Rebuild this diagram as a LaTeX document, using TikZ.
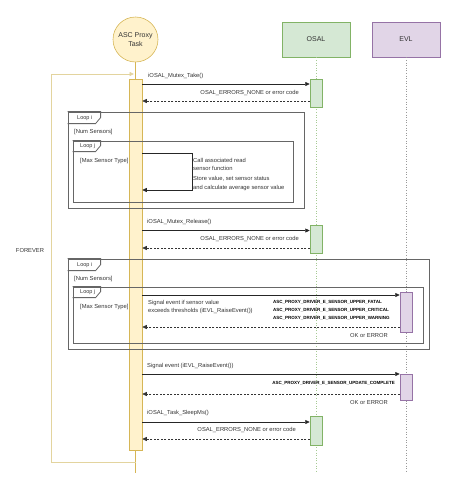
\documentclass[tikz,border=0pt]{standalone}
\usepackage{fontspec}
\setmainfont{Liberation Sans}
\usetikzlibrary{arrows.meta,calc}
\definecolor{yfill}{HTML}{FFF2CC}
\definecolor{ystroke}{HTML}{D6B656}
\definecolor{gfill}{HTML}{D5E8D4}
\definecolor{gstroke}{HTML}{82B366}
\definecolor{pfill}{HTML}{E1D5E7}
\definecolor{pstroke}{HTML}{9673A6}
\definecolor{frame}{HTML}{666666}
\definecolor{txt}{HTML}{333333}
\definecolor{loopline}{HTML}{E3D49E}
\tikzset{
  x=1pt, y=-1pt,
  head/.style={draw, line width=0.6pt, minimum width=68pt, minimum height=35pt, inner sep=0pt, font=\fontsize{7}{8}\selectfont, text=txt},
  actbar/.style={draw, line width=0.5pt, minimum width=12pt, inner sep=0pt},
  msg/.style={draw=black!85, line width=0.6pt, -{Triangle[length=4.5pt,width=4pt]}},
  ret/.style={draw=black!80, line width=0.6pt, dashed, dash pattern=on 2pt off 1.5pt, -{Triangle[length=4.5pt,width=4pt]}},
  lbl/.style={font=\fontsize{5.8}{7}\selectfont, text=txt, inner sep=0pt, anchor=west},
  blbl/.style={font=\fontsize{4.5}{5}\selectfont\bfseries, text=black, inner sep=0pt},
  loopframe/.style={draw=frame, line width=0.8pt},
  looptag/.style={font=\fontsize{5.5}{6}\selectfont, text=txt, inner sep=0pt},
  life/.style={line width=0.6pt, dotted},
}
\begin{document}
\begin{tikzpicture}
\useasboundingbox (0,0) rectangle (474,490);
% heads
\node[circle, draw=ystroke, fill=yfill, line width=0.6pt, minimum size=45pt, inner sep=0pt, align=center, font=\fontsize{7}{8.5}\selectfont, text=txt] (asc) at (135.5,39.5) {ASC Proxy\\Task};
\node[head, draw=gstroke, fill=gfill] (osal) at (316,39.5) {OSAL};
\node[head, draw=pstroke, fill=pfill] (evl) at (406,39.5) {EVL};
% lifelines
\coordinate (ascend) at (135.5,473);
\coordinate (osalend) at (316,473);
\coordinate (evlend) at (406,473);
\draw[ystroke, line width=0.6pt] (asc.south) -- (ascend);
\draw[life, draw=gstroke!70] (osal.south) -- (osalend);
\draw[life, draw=black!40] (evl.south) -- (evlend);
% FOREVER loop
\coordinate (fa) at (135.5,462);
\coordinate (fb) at (51,462);
\coordinate (fc) at (51,74);
\coordinate (fd) at (134,74);
\draw[loopline, line width=0.8pt, -{Triangle[length=4.5pt,width=4pt]}] (fa) -- (fb) -- (fc) -- (fd);
\node[font=\fontsize{5.8}{7}\selectfont, text=txt] (forever) at (30,250) {FOREVER};
% activation bars
\node[actbar, draw=ystroke, fill=yfill, minimum width=13pt, minimum height=371pt] (bar) at (135.5,264.5) {};
\node[actbar, draw=gstroke, fill=gfill, minimum height=28pt] (os1) at (316,93) {};
\node[actbar, draw=gstroke, fill=gfill, minimum height=28pt] (os2) at (316,239) {};
\node[actbar, draw=gstroke, fill=gfill, minimum height=29pt] (os3) at (316,430.5) {};
\node[actbar, draw=pstroke, fill=pfill, minimum height=40pt] (ev1) at (406,312) {};
\node[actbar, draw=pstroke, fill=pfill, minimum height=26pt] (ev2) at (406,387) {};
% msg 1
\node[lbl] (l1) at (148,76) {iOSAL\_Mutex\_Take()};
\draw[msg] (bar.east |- 0,84) -- (os1.west |- 0,84);
\node[lbl, anchor=east] (r1) at (299,93) {OSAL\_ERRORS\_NONE or error code};
\draw[ret] (os1.west |- 0,101) -- (bar.east |- 0,101);
% loop block 1
\node[loopframe, minimum width=236pt, minimum height=96pt, inner sep=0pt] (li1) at (186,160) {};
\draw[loopframe] (li1.north west) -- ++(33,0) -- ++(0,6) -- ++(-5,6) -- ++(-28,0);
\node[looptag, anchor=west] (li1t) at (77,118) {Loop i};
\node[lbl] (ns1) at (74,132) {[Num Sensors]};
\node[loopframe, minimum width=220pt, minimum height=61pt, inner sep=0pt] (lj1) at (183,171.5) {};
\draw[loopframe] (lj1.north west) -- ++(28,0) -- ++(0,5) -- ++(-5,6) -- ++(-23,0);
\node[looptag, anchor=west] (lj1t) at (80,146.5) {Loop j};
\node[lbl] (ms1) at (80,161) {[Max Sensor Type]};
\coordinate (sc1) at (192,153);
\coordinate (sc2) at (192,190);
\draw[msg] (bar.east |- sc1) -- (sc1) -- (sc2) -- (bar.east |- sc2);
\node[lbl] (sct1) at (193,160) {Call associated read};
\node[lbl] (sct2) at (193,168) {sensor function};
\node[lbl] (sct3) at (193,179) {Store value, set sensor status};
\node[lbl] (sct4) at (193,188) {and calculate average sensor value};
% msg release
\node[lbl] (l2) at (147,222) {iOSAL\_Mutex\_Release()};
\draw[msg] (bar.east |- 0,230.5) -- (os2.west |- 0,230.5);
\node[lbl, anchor=east] (r2) at (299,239) {OSAL\_ERRORS\_NONE or error code};
\draw[ret] (os2.west |- 0,248) -- (bar.east |- 0,248);
% loop block 2
\node[loopframe, minimum width=361pt, minimum height=90pt, inner sep=0pt] (li2) at (248.5,304) {};
\draw[loopframe] (li2.north west) -- ++(33,0) -- ++(0,6) -- ++(-5,6) -- ++(-28,0);
\node[looptag, anchor=west] (li2t) at (77,265) {Loop i};
\node[lbl] (ns2) at (74,279) {[Num Sensors]};
\node[loopframe, minimum width=350pt, minimum height=56pt, inner sep=0pt] (lj2) at (248,315) {};
\draw[loopframe] (lj2.north west) -- ++(28,0) -- ++(0,5) -- ++(-5,6) -- ++(-23,0);
\node[looptag, anchor=west] (lj2t) at (80,292.5) {Loop j};
\node[lbl] (ms2) at (80,307) {[Max Sensor Type]};
\draw[msg] (bar.east |- 0,295) -- (ev1.west |- 0,295);
\node[lbl] (se1) at (148,303) {Signal event if sensor value};
\node[lbl] (se2) at (148,311) {exceeds thresholds (iEVL\_RaiseEvent())};
\node[blbl, anchor=west] (b1) at (273,302) {ASC\_PROXY\_DRIVER\_E\_SENSOR\_UPPER\_FATAL};
\node[blbl, anchor=west] (b2) at (273,310) {ASC\_PROXY\_DRIVER\_E\_SENSOR\_UPPER\_CRITICAL};
\node[blbl, anchor=west] (b3) at (273,318) {ASC\_PROXY\_DRIVER\_E\_SENSOR\_UPPER\_WARNING};
\draw[ret] (ev1.west |- 0,327) -- (bar.east |- 0,327);
\node[lbl, anchor=center] (ok1) at (369,335) {OK or ERROR};
% signal complete
\node[lbl] (l3) at (147,366) {Signal event (iEVL\_RaiseEvent())};
\draw[msg] (bar.east |- 0,374) -- (ev2.west |- 0,374);
\node[blbl, anchor=east] (b4) at (395,383) {ASC\_PROXY\_DRIVER\_E\_SENSOR\_UPDATE\_COMPLETE};
\draw[ret] (ev2.west |- 0,394) -- (bar.east |- 0,394);
\node[lbl, anchor=center] (ok2) at (369,402) {OK or ERROR};
% sleep
\node[lbl] (l4) at (147,413) {iOSAL\_Task\_SleepMs()};
\draw[msg] (bar.east |- 0,422) -- (os3.west |- 0,422);
\node[lbl, anchor=east] (r3) at (296,430) {OSAL\_ERRORS\_NONE or error code};
\draw[ret] (os3.west |- 0,439) -- (bar.east |- 0,439);
\end{tikzpicture}
\end{document}
